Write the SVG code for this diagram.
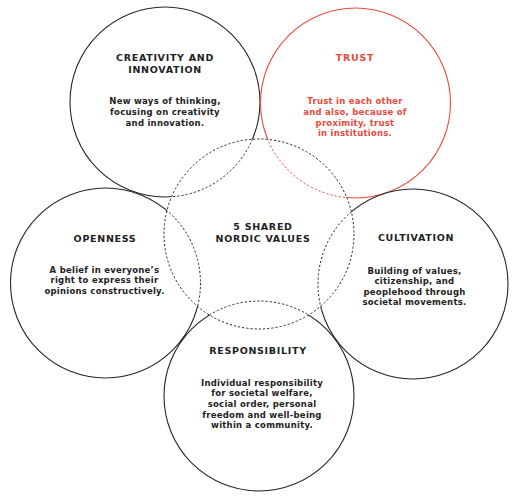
<svg xmlns="http://www.w3.org/2000/svg" width="522" height="500" viewBox="0 0 522 500">
<style>
.ring{fill:none;stroke:#262626;stroke-width:1.1}
.dash{fill:none;stroke:#262626;stroke-width:1;stroke-dasharray:2.2 2}
.red{stroke:#ea4a3c}
.t{font-family:"DejaVu Sans",sans-serif;font-weight:bold;font-size:9.5px;letter-spacing:0.7px;fill:#222;text-anchor:middle}
.b{font-family:"DejaVu Sans",sans-serif;font-weight:bold;font-size:8.5px;letter-spacing:0.25px;fill:#222;text-anchor:middle}
.rt{fill:#ea4a3c}
</style>
<defs>
<mask id="outside" maskUnits="userSpaceOnUse" x="0" y="0" width="522" height="500">
<rect x="0" y="0" width="522" height="500" fill="#fff"/>
<circle cx="259" cy="234" r="95" fill="#000"/>
</mask>
<clipPath id="inside"><circle cx="259" cy="234" r="95"/></clipPath>
</defs>
<rect width="522" height="500" fill="#fff"/>

<g id="creativity">
<circle class="ring" cx="165" cy="102" r="95" mask="url(#outside)"/>
<circle class="dash" cx="165" cy="102" r="95" clip-path="url(#inside)"/>
<text class="t" x="165" y="61">CREATIVITY AND</text>
<text class="t" x="165" y="73">INNOVATION</text>
<text class="b" x="165" y="104">New ways of thinking,</text>
<text class="b" x="165" y="115">focusing on creativity</text>
<text class="b" x="165" y="126">and innovation.</text>
</g>

<g id="trust">
<circle class="ring red" cx="355.5" cy="103" r="95" mask="url(#outside)"/>
<circle class="dash red" cx="355.5" cy="103" r="95" clip-path="url(#inside)"/>
<text class="t rt" x="355" y="61">TRUST</text>
<text class="b rt" x="355" y="104">Trust in each other</text>
<text class="b rt" x="355" y="115">and also, because of</text>
<text class="b rt" x="355" y="125.5">proximity, trust</text>
<text class="b rt" x="355" y="135.5">in institutions.</text>
</g>

<g id="openness">
<circle class="ring" cx="105.5" cy="283" r="95" mask="url(#outside)"/>
<circle class="dash" cx="105.5" cy="283" r="95" clip-path="url(#inside)"/>
<text class="t" x="105" y="242">OPENNESS</text>
<text class="b" x="104.5" y="273">A belief in everyone’s</text>
<text class="b" x="104.5" y="283">right to express their</text>
<text class="b" x="104.5" y="293.5">opinions constructively.</text>
</g>

<g id="cultivation">
<circle class="ring" cx="413" cy="284" r="95" mask="url(#outside)"/>
<circle class="dash" cx="413" cy="284" r="95" clip-path="url(#inside)"/>
<text class="t" x="416" y="241">CULTIVATION</text>
<text class="b" x="414.5" y="273.5">Building of values,</text>
<text class="b" x="414.5" y="283.5">citizenship, and</text>
<text class="b" x="414.5" y="294.5">peoplehood through</text>
<text class="b" x="414.5" y="304.5">societal movements.</text>
</g>

<g id="responsibility">
<circle class="ring" cx="259" cy="396" r="95" mask="url(#outside)"/>
<circle class="dash" cx="259" cy="396" r="95" clip-path="url(#inside)"/>
<text class="t" x="258" y="353.5">RESPONSIBILITY</text>
<text class="b" x="262" y="385.5">Individual responsibility</text>
<text class="b" x="262" y="396">for societal welfare,</text>
<text class="b" x="262" y="407">social order, personal</text>
<text class="b" x="262" y="417.5">freedom and well-being</text>
<text class="b" x="262" y="427.5">within a community.</text>
</g>

<g id="shared-values">
<circle class="dash" cx="259" cy="234" r="95"/>
<text class="t" x="263" y="230">5 SHARED</text>
<text class="t" x="263" y="242">NORDIC VALUES</text>
</g>
</svg>
